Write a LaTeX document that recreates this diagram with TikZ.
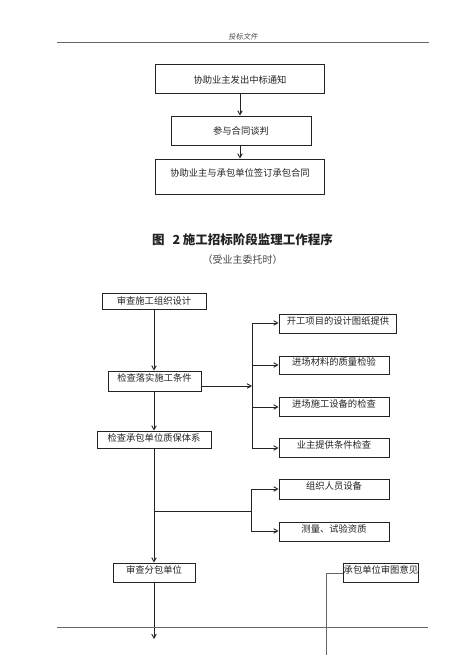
\documentclass[tikz,border=0pt]{standalone}
\usepackage{fontspec}
\setmainfont{Liberation Serif}
\newfontfamily\cjk{Noto Sans CJK SC}
\newfontfamily\cjkit[FakeSlant=0.2]{Noto Sans CJK SC}
\usetikzlibrary{arrows.meta}
\definecolor{ink}{RGB}{35,35,35}
\tikzset{
  box/.style={draw=ink, line width=0.9pt, inner sep=0pt, font=\cjk\fontsize{9.3}{10}\selectfont, text=ink},
  txt/.style={inner sep=0pt, font=\cjk\fontsize{9.3}{10}\selectfont, text=ink},
  conn/.style={draw=ink, line width=0.8pt},
  arr/.style={conn, -{Straight Barb[length=4pt,width=4.5pt,line width=0.9pt]}},
}
\begin{document}
\begin{tikzpicture}[x=1pt,y=-1pt]
\useasboundingbox (0,0) rectangle (474,670);
% header
\node[inner sep=0pt, font=\cjkit\fontsize{7.3}{8}\selectfont, text=ink!80] (hdr) at (243,37) {投标文件};
\coordinate (hl) at (57,42.5);
\coordinate (hr) at (429,42.5);
\draw[gray!80!black, line width=1.4pt] (hl) -- (hr);
% top flow
\node[box, minimum width=169, minimum height=29] (b1) at (239.5,78.5) {};
\node[txt] (t1) at (240,80) {协助业主发出中标通知};
\node[box, minimum width=140, minimum height=29] (b2) at (241,130.5) {};
\node[txt] (t2) at (241,131) {参与合同谈判};
\node[box, minimum width=169, minimum height=35] (b3) at (239.5,176.5) {};
\node[txt] (t3) at (240,173) {协助业主与承包单位签订承包合同};
\draw[arr] (b1.south -| 240,0) -- (b2.north -| 240,0);
\draw[arr] (b2.south -| 240,0) -- (b3.north -| 240,0);
% title
\node[inner sep=0pt, font=\cjk\bfseries\fontsize{12.5}{14}\selectfont, text=ink] (title) at (242.5,240) {图\hspace{8pt}2 施工招标阶段监理工作程序};
\node[inner sep=0pt, font=\cjk\fontsize{10}{12}\selectfont, text=ink!85] (sub) at (242.5,260) {（受业主委托时）};
% left column
\node[box, minimum width=104, minimum height=16] (A) at (154,301) {审查施工组织设计};
\node[box, minimum width=93, minimum height=20] (B) at (154.5,381) {};
\node[txt] (tB) at (154.5,378) {检查落实施工条件};
\node[box, minimum width=114, minimum height=17] (C) at (154,439.5) {};
\node[txt] (tC) at (154,437.5) {检查承包单位质保体系};
\node[box, minimum width=82, minimum height=19] (D) at (154,572.5) {};
\node[txt] (tD) at (154,570) {审查分包单位};
\draw[arr] (A.south -| 154,0) -- (B.north -| 154,0);
\draw[arr] (B.south -| 154,0) -- (C.north -| 154,0);
\draw[arr] (C.south -| 154,0) -- (D.north -| 154,0);
\coordinate (Dend) at (154,639);
\draw[arr] (D.south -| 154,0) -- (Dend);
% right group 1
\node[box, minimum width=117, minimum height=19] (R1) at (337.5,323.5) {};
\node[txt] (tR1) at (338,320.5) {开工项目的设计图纸提供};
\node[box, minimum width=110, minimum height=18] (R2) at (334,365) {};
\node[txt] (tR2) at (334,362) {进场材料的质量检验};
\node[box, minimum width=110, minimum height=19] (R3) at (334,406.5) {};
\node[txt] (tR3) at (334,403.5) {进场施工设备的检查};
\node[box, minimum width=110, minimum height=19] (R4) at (334,447.5) {};
\node[txt] (tR4) at (334,444.5) {业主提供条件检查};
\coordinate (Bout) at (201,386);
\coordinate (j1) at (252,386);
\draw[arr] (Bout) -- (j1);
\coordinate (v1t) at (252,323);
\coordinate (v1b) at (252,448);
\draw[conn] (v1t) -- (v1b);
\draw[arr] (v1t) -- (v1t -| R1.west);
\draw[arr] (252,365) -- (R2.west |- 0,365);
\draw[arr] (252,407) -- (R3.west |- 0,407);
\draw[arr] (v1b) -- (v1b -| R4.west);
% right group 2
\node[box, minimum width=110, minimum height=20] (R5) at (334,489) {};
\node[txt] (tR5) at (334,486) {组织人员设备};
\node[box, minimum width=110, minimum height=19] (R6) at (334,531.5) {};
\node[txt] (tR6) at (334,528.5) {测量、试验资质};
\coordinate (j2a) at (154,511);
\coordinate (j2b) at (251,511);
\draw[conn] (j2a) -- (j2b);
\coordinate (v2t) at (251,489);
\coordinate (v2b) at (251,531);
\draw[conn] (v2t) -- (v2b);
\draw[arr] (v2t) -- (v2t -| R5.west);
\draw[arr] (v2b) -- (v2b -| R6.west);
% E
\node[box, minimum width=75, minimum height=19] (E) at (380.5,572.5) {};
\node[txt, anchor=west] (tE) at (343.5,570) {承包单位审图意见};
\coordinate (Ec) at (326,573);
\coordinate (Ed) at (326,655);
\draw[conn, draw=gray!80!black] (E.west |- Ec) -- (Ec) -- (Ed);
% footer
\coordinate (fl) at (57,627);
\coordinate (fr) at (428,627);
\draw[gray!80!black, line width=0.9pt] (fl) -- (fr);
\end{tikzpicture}
\end{document}
